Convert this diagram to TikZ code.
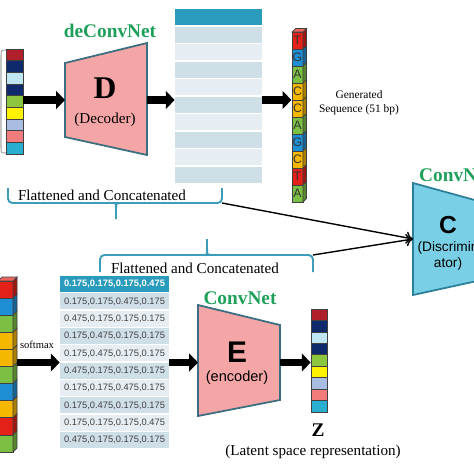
\documentclass[tikz,border=0pt]{standalone}
\usepackage{fontspec}
\setmainfont{Liberation Serif}
\setsansfont{Liberation Sans}
\usetikzlibrary{arrows.meta}
\definecolor{netgreen}{HTML}{1FA05A}
\definecolor{pinkD}{HTML}{F4A5A5}
\definecolor{edgeD}{HTML}{3A6E80}
\definecolor{cyanC}{HTML}{79D0E6}
\definecolor{edgeC}{HTML}{2C7F98}
\definecolor{headrow}{HTML}{2A9BBD}
\definecolor{rowA}{HTML}{CFDFE8}
\definecolor{rowB}{HTML}{E7EEF3}
\definecolor{bracec}{HTML}{3C9CBA}
\definecolor{dnaT}{HTML}{E32119}
\definecolor{dnaG}{HTML}{1E8FD5}
\definecolor{dnaA}{HTML}{7CC043}
\definecolor{dnaC}{HTML}{F5B700}
\definecolor{z1}{HTML}{B0202A}
\definecolor{z2}{HTML}{0E2A6B}
\definecolor{z3}{HTML}{BFE6F2}
\definecolor{z5}{HTML}{8CC63F}
\definecolor{z6}{HTML}{FFF200}
\definecolor{z7}{HTML}{A9BDE2}
\definecolor{z8}{HTML}{F27B7B}
\definecolor{z9}{HTML}{29AECF}
\begin{document}
\begin{tikzpicture}[x=0.02cm,y=-0.02cm,
    blk/.style={line width=4.2pt,-{Triangle[length=5pt,width=10pt]}},
    dec/.style={draw=edgeD,fill=pinkD,line width=1pt},
    dis/.style={draw=edgeC,fill=cyanC,line width=1pt},
    net/.style={text=netgreen,font=\bfseries\fontsize{11}{13}\selectfont},
    brc/.style={draw=bracec,line width=1.1pt,rounded corners=2.5pt},
    ser/.style={font=\fontsize{8.6}{10}\selectfont},
    num/.style={font=\sffamily\fontsize{5.3}{6}\selectfont},
    cell/.style={draw=black!75,line width=0.4pt}]
  \useasboundingbox (0,0) rectangle (474,474);
  \draw[gray!70,line width=0.6pt] (6,50) .. controls (1,50) .. (1,56) -- (1,147) .. controls (1,153) .. (6,153);
  \node[minimum width=0.34cm,minimum height=2.1cm,inner sep=0] (lz1) at (14.5,101.5) {};
  \foreach \c [count=\i from 0] in {z1,z2,z3,z2,z5,z6,z7,z8,z9}
    \path[fill=\c,cell] (6,49+11.67*\i) rectangle (23,60.67+11.67*\i);
  \node[net] (dnet) at (110,31) {deConvNet};
  \draw[dec] (65,63) -- (147,43) -- (147,155) -- (65,137) -- cycle;
  \coordinate (dl) at (65,100);
  \coordinate (dr) at (147,100);
  \node[font=\bfseries\fontsize{18}{18}\selectfont] (dlbl) at (105,88) {D};
  \node[ser] (dsub) at (105,120) {(Decoder)};
  \node[minimum width=1.74cm,minimum height=3.48cm,inner sep=0] (fm) at (218.5,96) {};
  \fill[headrow] (175,9) rectangle (262,25);
  \foreach \i in {1,...,9}{
    \ifodd\i\relax\def\rc{rowA}\else\def\rc{rowB}\fi
    \fill[\rc] (175,9+17.5*\i) rectangle (262,25+17.5*\i);
  }
  \node[minimum width=0.29cm,minimum height=3.4cm,inner sep=0] (seq) at (299,117) {};
  \foreach \c/\l [count=\i from 0] in {dnaT/T,dnaG/G,dnaA/A,dnaC/C,dnaC/C,dnaA/A,dnaG/G,dnaC/C,dnaT/T,dnaA/A}{
    \path[fill=\c,cell] (292,32+17*\i) rectangle (303,49+17*\i);
    \path[fill=\c!70!black,cell] (303,32+17*\i) -- (306.5,28.5+17*\i) -- (306.5,45.5+17*\i) -- (303,49+17*\i) -- cycle;
    \node[font=\sffamily\fontsize{7}{7}\selectfont,text=black!80] at (297.5,40.5+17*\i) {\l};
  }
  \path[fill=dnaT!70!white,cell] (292,32) -- (295.5,28.5) -- (306.5,28.5) -- (303,32) -- cycle;
  \node[align=center,font=\fontsize{6.5}{8}\selectfont] (gen) at (359,103) {Generated\\Sequence (51 bp)};
  \draw[blk] (dl -| lz1.east) -- (dl);
  \draw[blk] (dr) -- (dr -| fm.west);
  \draw[blk] (dr -| fm.east) -- (dr -| seq.west);
  \draw[brc] (8,188) -- (8,203) -- (222,203) -- (222,188);
  \draw[brc] (110,203) .. controls (116,203) .. (116,209) -- (116,219);
  \draw[brc] (122,203) .. controls (116,203) .. (116,209);
  \node[ser] (flat1) at (102,195) {Flattened and Concatenated};
  \draw[brc] (100,272) -- (100,255) -- (313,255) -- (313,272);
  \draw[brc] (201,255) .. controls (207,255) .. (207,249) -- (207,239);
  \draw[brc] (213,255) .. controls (207,255) .. (207,249);
  \node[ser] (flat2) at (195,268) {Flattened and Concatenated};
  \coordinate (b1) at (222,203);
  \coordinate (b2) at (313,255);
  \coordinate (cin) at (413,239);
  \draw[dis] (413,183) -- (500,207) -- (500,276) -- (413,295) -- cycle;
  \draw[line width=0.8pt,-{To[length=4pt,width=7pt]}] (b1) -- (cin);
  \draw[line width=0.8pt,-{To[length=4pt,width=7pt]}] (b2) -- (cin);
  \node[net,anchor=west] (cnet) at (413,175) {ConvNet};
  \node[font=\sffamily\bfseries\fontsize{14}{14}\selectfont] (clbl) at (448,225) {C};
  \node[align=center,font=\sffamily\fontsize{7.8}{9.6}\selectfont] (csub) at (448,256) {(Discrimin\\ator)};
  \node[minimum width=0.38cm,minimum height=3.42cm,inner sep=0] (oh) at (7.5,366.5) {};
  \foreach \c [count=\i from 0] in {dnaT,dnaG,dnaA,dnaC,dnaC,dnaA,dnaG,dnaC,dnaT,dnaA}{
    \path[fill=\c,cell] (-2,281+17.1*\i) rectangle (13,298.1+17.1*\i);
    \path[fill=\c!70!black,cell] (13,281+17.1*\i) -- (17,277+17.1*\i) -- (17,294.1+17.1*\i) -- (13,298.1+17.1*\i) -- cycle;
  }
  \path[fill=dnaT!70!white,cell] (-2,281) -- (2,277) -- (17,277) -- (13,281) -- cycle;
  \node[font=\fontsize{6}{7}\selectfont] (smax) at (37,345) {softmax};
  \node[minimum width=2.18cm,minimum height=3.46cm,inner sep=0] (mx) at (114.5,362.5) {};
  \fill[headrow] (60,276) rectangle (169,292);
  \node[num,text=white,font=\sffamily\bfseries\fontsize{5.3}{6}\selectfont] at (114.5,284) {0.175,0.175,0.175,0.475};
  \foreach \v [count=\i from 1] in {{0.175,0.175,0.475,0.175},{0.475,0.175,0.175,0.175},{0.175,0.475,0.175,0.175},{0.175,0.475,0.175,0.175},{0.475,0.175,0.175,0.175},{0.175,0.175,0.475,0.175},{0.175,0.475,0.175,0.175},{0.175,0.175,0.175,0.475},{0.475,0.175,0.175,0.175}}{
    \ifodd\i\relax\def\rc{rowA}\else\def\rc{rowB}\fi
    \fill[\rc] (60,276+17.35*\i) rectangle (169,292+17.35*\i);
    \node[num,text=black!75] at (114.5,284+17.35*\i) {\v};
  }
  \draw[blk] (oh.east |- mx.west) -- (mx.west);
  \node[net] (enet) at (240,298) {ConvNet};
  \draw[dec] (198,305) -- (280,325) -- (280,400) -- (198,416) -- cycle;
  \coordinate (el) at (198,362.5);
  \coordinate (er) at (280,362.5);
  \node[font=\sffamily\bfseries\fontsize{17}{17}\selectfont] (elbl) at (237,352) {E};
  \node[font=\sffamily\fontsize{8.3}{10}\selectfont] (esub) at (237,378) {(encoder)};
  \draw[blk] (mx.east) -- (el);
  \node[minimum width=0.32cm,minimum height=2.06cm,inner sep=0] (lz2) at (319,360.5) {};
  \foreach \c [count=\i from 0] in {z1,z2,z3,z2,z5,z6,z7,z8,z9}
    \path[fill=\c,cell] (311,309+11.44*\i) rectangle (327,320.44+11.44*\i);
  \draw[blk] (er) -- (er -| lz2.west);
  \node[font=\bfseries\fontsize{11}{11}\selectfont] (zlbl) at (318,430) {Z};
  \node[ser] (zsub) at (313,452) {(Latent space representation)};
\end{tikzpicture}
\end{document}
